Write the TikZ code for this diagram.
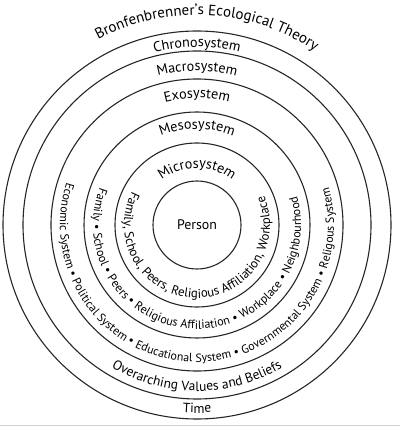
\documentclass[tikz,border=0pt]{standalone}
\usepackage{fontspec}
\setmainfont{PT Sans}
\usetikzlibrary{decorations.text}
\newcommand{\ttlf}{\fontsize{15}{16}\selectfont}
\newcommand{\rngf}{\fontsize{14.2}{15}\selectfont}
\newcommand{\ovf}{\fontsize{13.5}{14}\selectfont}
\newcommand{\ecf}{\fontsize{11.9}{12}\selectfont}
\newcommand{\fmf}{\fontsize{12.1}{12}\selectfont}
\newcommand{\inrf}{\fontsize{12.8}{13}\selectfont}
\tikzset{
  ring/.style={line width=1.1pt, draw=black!85},
  arctext/.style={decorate, decoration={text along path, text align=center, text={#1}}},
}
\begin{document}
\begin{tikzpicture}[x=1pt,y=1pt]
\useasboundingbox (0,0) rectangle (400,432);
\draw[black!18, line width=0.8pt] (0,7) -- (400,7);
\begin{scope}[shift={(197,207)}]
  \foreach \r in {44,82,113,146,174,194} \draw[ring] (0,0) circle[radius=\r];
  \node (person) at (0,0) {\fontsize{13.9}{14}\selectfont Person};
  % top labels
  \path[arctext={|\ttlf|Bronfenbrenner’s Ecological Theory}] (160:210) arc[start angle=160, end angle=14, radius=210];
  \path[arctext={|\rngf|Chronosystem}] (150:178) arc[start angle=150, end angle=30, radius=178];
  \path[arctext={|\rngf|Macrosystem}] (150:154) arc[start angle=150, end angle=30, radius=154];
  \path[arctext={|\rngf|Exosystem}] (150:127) arc[start angle=150, end angle=30, radius=127];
  \path[arctext={|\rngf|Mesosystem}] (150:96) arc[start angle=150, end angle=30, radius=96];
  \path[arctext={|\rngf|Microsystem}] (160:57) arc[start angle=160, end angle=20, radius=57];
  % bottom labels
  \path[arctext={|\ovf|Time}] (230:188) arc[start angle=230, end angle=310, radius=188];
  \path[arctext={|\ovf|Overarching Values and Beliefs}] (200:166) arc[start angle=200, end angle=340, radius=166];
  \path[arctext={|\ecf|Economic System • Political System • Educational System • Governmental System • Religous System}] (150:137) arc[start angle=150, end angle=388, radius=137];
  \path[arctext={|\fmf|Family • School • Peers • Religious Affiliation • Workplace • Neighbourhood}] (150:104) arc[start angle=150, end angle=385, radius=104];
  \path[arctext={|\inrf|Family, School, Peers, Religious Affiliation, Workplace}] (140:73) arc[start angle=140, end angle=396, radius=73];
\end{scope}
\end{tikzpicture}
\end{document}
